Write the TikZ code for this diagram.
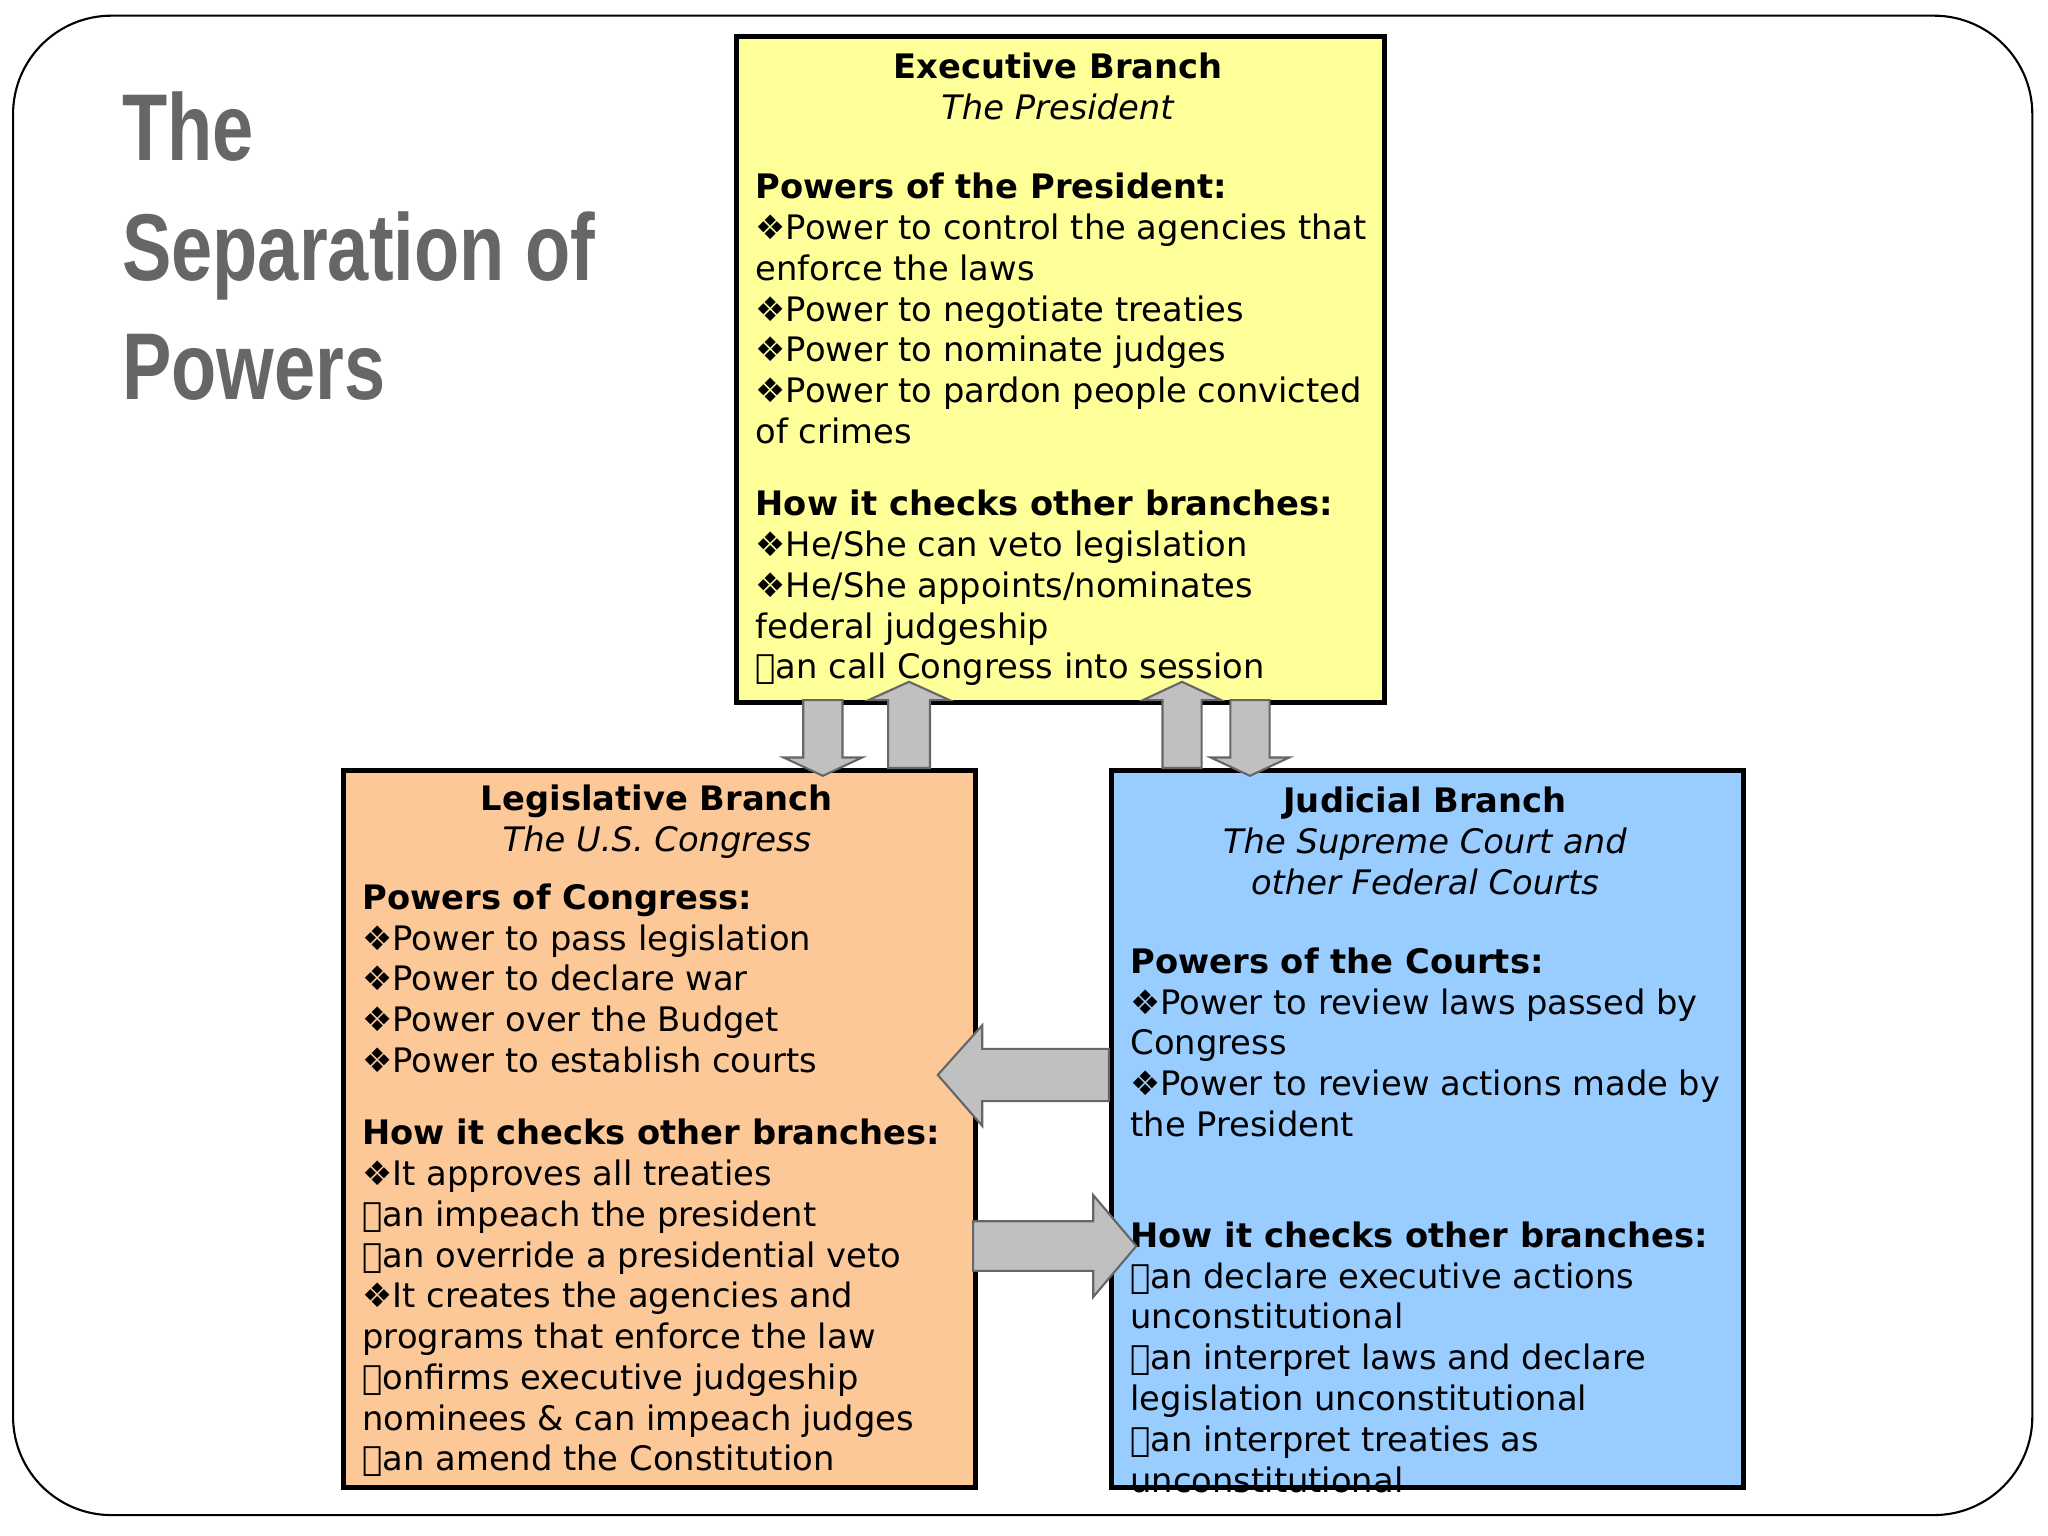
\documentclass[tikz,border=0pt]{standalone}
\usepackage{fontspec}
\setmainfont{DejaVu Sans}
\newfontfamily\titlefont[FakeStretch=0.78]{Liberation Sans Bold}
\usetikzlibrary{positioning}
\definecolor{ExecY}{HTML}{FFFF99}
\definecolor{LegO}{HTML}{FCC898}
\definecolor{JudB}{HTML}{99CCFF}
\definecolor{ArrG}{HTML}{C0C0C0}
\definecolor{TitleG}{HTML}{666666}
\newcommand{\bul}{\char"2756}
\begin{document}
\begin{tikzpicture}[x=0.01306cm,y=-0.01306cm]
\tikzset{
  branch/.style={draw=black, line width=1.4pt, inner sep=0pt},
  shadowed/.style={fill=black!55},
  btitle/.style={align=center, font=\fontsize{9.6}{11.6}\selectfont, inner sep=0pt},
  bbody/.style={align=left, anchor=north west, inner sep=0pt, font=\fontsize{9.6}{11.6}\selectfont},
  blockarrow/.style={fill=ArrG, draw=gray!80!black, line width=0.6pt}
}
\useasboundingbox (0,0) rectangle (1568,1176);
\draw[line width=0.6pt, rounded corners=28pt, fill=white] (10,12) rectangle (1556,1160);
% title
\node[anchor=north west, align=left, text=TitleG, inner sep=0pt,
  font=\titlefont\fontsize{27}{34}\selectfont] (title) at (93,70) {The\\Separation of\\Powers};
% shadows
\fill[shadowed] (566,30) rectangle (1062,540);
\fill[shadowed] (265,592) rectangle (749,1141);
\fill[shadowed] (853,592) rectangle (1337,1141);
% boxes
\node[branch, fill=ExecY, minimum width=496*0.01306cm, minimum height=510*0.01306cm, anchor=north west] (exec) at (562,26) {};
\node[branch, fill=LegO, minimum width=484*0.01306cm, minimum height=549*0.01306cm, anchor=north west] (leg) at (261,588) {};
\node[branch, fill=JudB, minimum width=484*0.01306cm, minimum height=549*0.01306cm, anchor=north west] (jud) at (849,588) {};
% executive
\node[btitle] (exectitle) at (810,66) {\textbf{Executive Branch}\\\textit{The President}};
\node[bbody] (execbody) at (578,132) {\textbf{Powers of the President:}\\
\bul Power to control the agencies that\\enforce the laws\\
\bul Power to negotiate treaties\\
\bul Power to nominate judges\\
\bul Power to pardon people convicted\\of crimes\\[9pt]
\textbf{How it checks other branches:}\\
\bul He/She can veto legislation\\
\bul He/She appoints/nominates\\federal judgeship\\
\bul Can call Congress into session};
% legislative
\node[btitle] (legtitle) at (503,629) {\textbf{Legislative Branch}\\\textit{The U.S. Congress}};
\node[bbody] (legbody) at (277,676) {\textbf{Powers of Congress:}\\
\bul Power to pass legislation\\
\bul Power to declare war\\
\bul Power over the Budget\\
\bul Power to establish courts\\[9pt]
\textbf{How it checks other branches:}\\
\bul It approves all treaties\\
\bul Can impeach the president\\
\bul Can override a presidential veto\\
\bul It creates the agencies and\\programs that enforce the law\\
\bul Confirms executive judgeship\\nominees \& can impeach judges\\
\bul Can amend the Constitution};
% judicial
\node[btitle] (judtitle) at (1091,644) {\textbf{Judicial Branch}\\\textit{The Supreme Court and}\\\textit{other Federal Courts}};
\node[bbody] (judbody) at (865,725) {\textbf{Powers of the Courts:}\\
\bul Power to review laws passed by\\Congress\\
\bul Power to review actions made by\\the President\\[20pt]
\textbf{How it checks other branches:}\\
\bul Can declare executive actions\\unconstitutional\\
\bul Can interpret laws and declare\\legislation unconstitutional\\
\bul Can interpret treaties as\\unconstitutional};
% arrows
\draw[blockarrow] (615,536) -- (645,536) -- (645,580) -- (660,580) -- (630,594) -- (600,580) -- (615,580) -- cycle;
\draw[blockarrow] (680,588) -- (680,536) -- (665,536) -- (696,522) -- (727,536) -- (712,536) -- (712,588) -- cycle;
\draw[blockarrow] (890,588) -- (890,536) -- (875,536) -- (905,522) -- (935,536) -- (920,536) -- (920,588) -- cycle;
\draw[blockarrow] (942,536) -- (972,536) -- (972,580) -- (987,580) -- (957,594) -- (927,580) -- (942,580) -- cycle;
\draw[blockarrow] (849,803) -- (752,803) -- (752,785) -- (718,823) -- (752,862) -- (752,843) -- (849,843) -- cycle;
\draw[blockarrow] (745,935) -- (837,935) -- (837,915) -- (870,954) -- (837,993) -- (837,973) -- (745,973) -- cycle;
\end{tikzpicture}
\end{document}
